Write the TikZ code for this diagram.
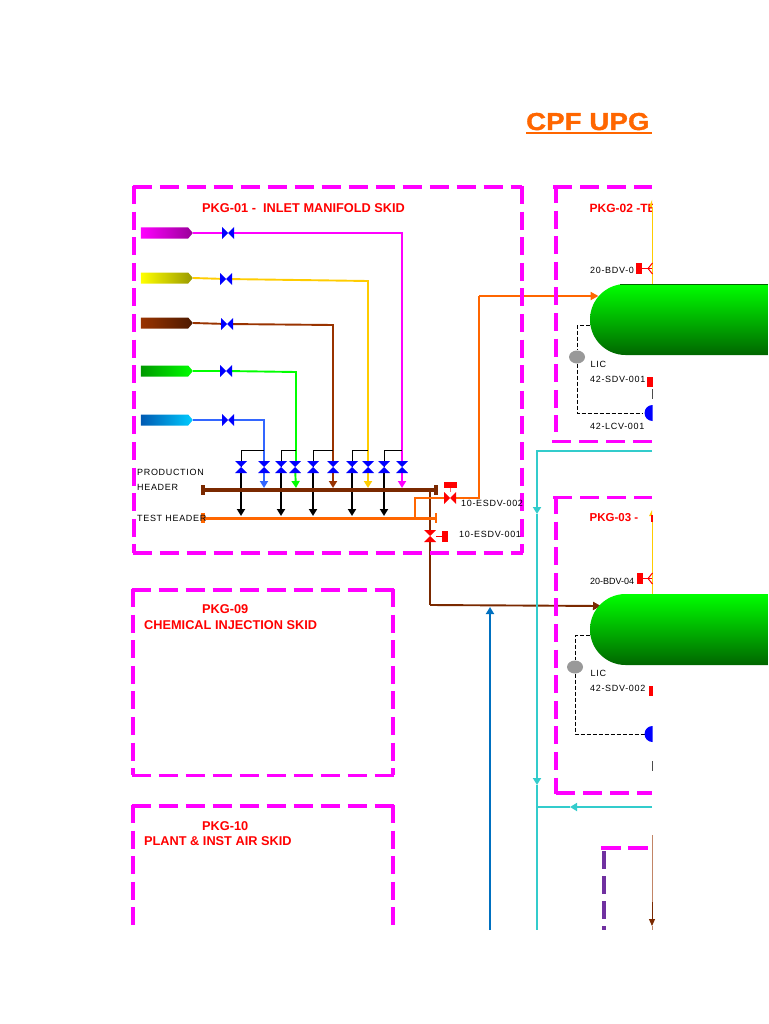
\documentclass[tikz,border=0pt]{standalone}
\usepackage{fontspec}
\setmainfont{Liberation Sans}
\newfontfamily\smallfont[LetterSpace=7.5]{Liberation Sans}
\newfontfamily\titlefont[BoldFeatures={FakeStretch=1.12,FakeBold=1.5},LetterSpace=1]{Liberation Sans}
\usetikzlibrary{arrows.meta,shapes.symbols,shapes.geometric,backgrounds}
\tikzset{
  pkgh/.style={draw=magenta!100,line width=3.5pt,dash pattern=on 19pt off 8pt},
  pkgv/.style={draw=magenta!100,line width=3.5pt,dash pattern=on 18pt off 7.6pt},
  feedtag/.style={signal,signal to=east,signal pointer angle=100,minimum width=52pt,minimum height=11pt,inner sep=0pt},
  hvalve/.style={rectangle,minimum size=12pt,inner sep=0pt,path picture={\fill[#1] (path picture bounding box.north west) -- (path picture bounding box.south east) -- (path picture bounding box.north east) -- (path picture bounding box.south west) -- cycle;}},
  vvalve/.style={rectangle,minimum size=12pt,inner sep=0pt,path picture={\fill[#1] (path picture bounding box.north west) -- (path picture bounding box.north east) -- (path picture bounding box.south west) -- (path picture bounding box.south east) -- cycle;}},
  pipe/.style={line width=1.9pt,>={Triangle[length=7pt,width=8pt]}},
  bigpipe/.style={pipe,>={Triangle[length=8pt,width=8pt]}},
  feedline/.style={pipe,draw=#1,-{Triangle[length=7pt,width=8pt]}},
  header/.style={line width=#1},
  pkgtitle/.style={anchor=west,inner sep=0pt,text=red,font=\bfseries\fontsize{12.75}{13}\selectfont},
  smalltag/.style={anchor=west,inner sep=0pt,text=black,font=\smallfont\fontsize{9}{9}\selectfont},
  actuator/.style={fill=red,draw=none},
  vessel/.style={top color=green,bottom color=green!40!black},
  signalline/.style={black,line width=0.9pt,dash pattern=on 4pt off 2pt},
  levelball/.style={ellipse,draw=none,fill=black!40,minimum width=16pt,minimum height=13pt,inner sep=0pt},
}
\definecolor{magenta}{HTML}{FF00FF}
\definecolor{goldline}{HTML}{FFCC00}
\definecolor{brownline}{HTML}{993300}
\definecolor{blueline}{HTML}{3366FF}
\definecolor{orangeline}{HTML}{FF6600}
\definecolor{tealline}{HTML}{33CCCC}
\definecolor{waterline}{HTML}{0070C0}
\definecolor{purpleline}{HTML}{7030A0}
\begin{document}
\begin{tikzpicture}[x=1pt,y=-1pt]
\useasboundingbox (0,0) rectangle (768,1024);
\node[anchor=base west,inner sep=0pt,text=orangeline,font=\titlefont\bfseries\fontsize{24.5}{25}\selectfont] (title) at (526,130) {CPF UPG};
\draw[orangeline,line width=2pt] (526,133) -- (652,133);
\draw[pkgh] (132.5,187) -- (522,187) (132.5,553) -- (523,553);
\draw[pkgv] (134,186) -- (134,553) (522,186) -- (522,553);
\draw[pkgh] (131.5,590) -- (394,590) (131.5,775.5) -- (394,775.5);
\draw[pkgv] (133,589) -- (133,775) (393,589) -- (393,775);
\draw[pkgh] (131.5,806) -- (394,806);
\draw[pkgv] (133,805) -- (133,925) (393,805) -- (393,925);
\draw[pkgh] (553,187) -- (652,187);
\draw[pkgv] (556,185) -- (556,432);
\draw[pkgh] (552,441.5) -- (652,441.5);
\draw[pkgh] (553,497.5) -- (652,497.5);
\draw[pkgv] (556,496) -- (556,794);
\draw[pkgh] (556,793) -- (652,793);
\draw[magenta,line width=3.5pt,dash pattern=on 20pt off 7pt] (601,848) -- (648,848);
\draw[purpleline,line width=3.5pt,dash pattern=on 18pt off 7pt] (604,851) -- (604,930);
\node[feedtag,left color=magenta,right color=magenta!60!black] (tagmag) at (164.5,233) {};
\node[feedtag,left color=yellow,right color=yellow!60!black] (taggold) at (164.5,278) {};
\node[feedtag,left color=brownline,right color=brownline!50!black] (tagbrown) at (164.5,323) {};
\node[feedtag,left color=green!60!black,right color=green] (taggreen) at (164.5,371) {};
\node[feedtag,left color=cyan!50!blue!70!black,right color=cyan!80!blue] (tagblue) at (164.5,420) {};
\node[hvalve=blue] (vmag) at (228,233) {};
\node[hvalve=blue] (vgold) at (226,279) {};
\node[hvalve=blue] (vbrown) at (227,324) {};
\node[hvalve=blue] (vgreen) at (226,371) {};
\node[hvalve=blue] (vblue) at (228,420) {};
\node[vvalve=blue] (p1) at (241,467) {};
\node[vvalve=blue] (t1) at (264,467) {};
\node[vvalve=blue] (p2) at (281,467) {};
\node[vvalve=blue] (t2) at (295,467) {};
\node[vvalve=blue] (p3) at (313,467) {};
\node[vvalve=blue] (t3) at (333,467) {};
\node[vvalve=blue] (p4) at (352,467) {};
\node[vvalve=blue] (t4) at (368,467) {};
\node[vvalve=blue] (p5) at (384,467) {};
\node[vvalve=blue] (t5) at (402,467) {};
\node[hvalve=red] (esdv2) at (450,498) {};
\node[vvalve=red] (esdv1) at (430,536) {};
\coordinate (prodL) at (203,490);
\coordinate (prodR) at (437,490);
\coordinate (testL) at (203,518);
\coordinate (testR) at (437,518);
\coordinate (ves1) at (598.5,296);
\coordinate (ves2) at (601,606);
\begin{pgfonlayer}{background}
\draw[pipe,magenta] (tagmag.east) -- (vmag) -| (t5);
\draw[pipe,goldline] (taggold.east) -- (vgold) -- (368,281) -- (t4);
\draw[pipe,brownline] (tagbrown.east) -- (vbrown) -- (333,325) -- (t3);
\draw[pipe,green] (taggreen.east) -- (vgreen) -- (296,372) -- (296,461);
\draw[pipe,blueline] (tagblue.east) -- (vblue) -| (t1);
\draw[feedline=magenta] (t5) -- (402,488);
\draw[feedline=goldline] (t4) -- (368,488);
\draw[feedline=brownline] (t3) -- (333,488);
\draw[feedline=green] (t2) -- (296,488);
\draw[feedline=blueline] (t1) -- (264,488);
\draw[black,line width=1pt] (p1.center) |- (241,450) -- (264,450);
\draw[black,line width=1pt] (p2.center) |- (281,450) -- (296,450);
\draw[black,line width=1pt] (p3.center) |- (313,450) -- (333,450);
\draw[black,line width=1pt] (p4.center) |- (352,450) -- (368,450);
\draw[black,line width=1pt] (p5.center) |- (384,450) -- (402,450);
\draw[feedline=black] (p1) -- (241,516);
\draw[feedline=black] (p2) -- (281,516);
\draw[feedline=black] (p3) -- (313,516);
\draw[feedline=black] (p4) -- (352,516);
\draw[feedline=black] (p5) -- (384,516);
\end{pgfonlayer}
\draw[header=4pt,brownline!80!black] (prodL) -- (prodR);
\draw[header=4pt,brownline!80!black] (prodL) ++(0,-5) --++ (0,10);
\draw[header=4pt,brownline!80!black] (prodR) ++(-1,-5) --++ (0,10);
\draw[header=3pt,orangeline] (testL) -- (testR);
\draw[header=4pt,orangeline] (testL) ++(0,-5) --++ (0,10);
\draw[header=2.5pt,orangeline] (testR) ++(-1,-5) --++ (0,10);
\begin{pgfonlayer}{background}
\draw[pipe,brownline!80!black] (430,490) -- (esdv1) -- (430,605);
\draw[bigpipe,brownline!80!black,->] (430,605) -- (ves2);
\draw[pipe,orangeline] (415,518) -- (415,498) -- (esdv2) -- (479,498) -- (479,296);
\draw[bigpipe,orangeline,->] (479,296) -- (ves1);
\draw[pipe,waterline,->] (490,930) -- (490,607);
\draw[pipe,tealline,->] (652,451) -- (537,451) -- (537,514);
\draw[pipe,tealline,->] (537,514) -- (537,785);
\draw[pipe,tealline] (537,785) -- (537,930);
\draw[pipe,tealline,->] (652,807) -- (570,807);
\draw[pipe,tealline] (570,807) -- (537,807);
\end{pgfonlayer}
\draw[red!60!white,line width=0.9pt] (esdv2) -- (450,488);
\fill[actuator] (444,482) rectangle (457,488);
\draw[red,line width=0.9pt] (esdv1) -- (442,536);
\fill[actuator] (442,531) rectangle (448,542);
\node[pkgtitle] (pkg1) at (202,208) {PKG-01 -\ \ INLET MANIFOLD SKID};
\node[smalltag] (prodtag) at (137,472.5) {PRODUCTION};
\node[smalltag] (prodtag2) at (137,487.5) {HEADER};
\node[smalltag] (testtag) at (137,518.5) {TEST HEADER};
\node[smalltag] (tag2) at (461,503) {10-ESDV-002};
\node[smalltag] (tag1) at (459,534.5) {10-ESDV-001};
\node[pkgtitle] (pkg9) at (202,609.5) {PKG-09};
\node[pkgtitle] (pkg9b) at (144,625.5) {CHEMICAL INJECTION SKID};
\node[pkgtitle] (pkg10) at (202,826) {PKG-10};
\node[pkgtitle] (pkg10b) at (144,841.5) {PLANT \& INST AIR SKID};
\node[pkgtitle,font=\bfseries\fontsize{12}{12}\selectfont] (pkg2) at (589.5,208.5) {PKG-02 -TE};
\node[pkgtitle,font=\bfseries\fontsize{11.5}{12}\selectfont] (pkg3) at (589.5,517.5) {PKG-03 -};
\node[smalltag] (bdv1) at (590,270.5) {20-BDV-0};
\node[smalltag] (lic1) at (590.5,364) {LIC};
\node[smalltag] (sdv1) at (590,379.5) {42-SDV-001};
\node[smalltag] (lcv1) at (590,426) {42-LCV-001};
\node[smalltag,font=\rmfamily\fontsize{9}{9}\selectfont] (bdv2) at (590,581) {20-BDV-04};
\node[smalltag] (lic2) at (590.5,673) {LIC};
\node[smalltag] (sdv2) at (590,688) {42-SDV-002};
\fill[white] (652.5,195) rectangle (660,300);
\draw[goldline,line width=0.7pt] (652,284) -- (652,207);
\fill[goldline] (652,200) -- (652,207) -- (649,207) -- cycle;
\draw[goldline,line width=0.7pt] (652,594) -- (652,516);
\fill[goldline] (652,510) -- (652,516) -- (649,516) -- cycle;
\fill[actuator] (651,515) rectangle (652.5,522);
\fill[actuator] (636,263) rectangle (641.5,274);
\draw[red,line width=1pt] (641,268.5) -- (652,268.5);
\draw[red,line width=1pt] (652.5,263) -- (648,268.5) -- (652.5,274);
\fill[actuator] (637,573) rectangle (642.5,584);
\draw[red,line width=1pt] (642,578.5) -- (652,578.5);
\draw[red,line width=1pt] (652.5,573) -- (648,578.5) -- (652.5,584);
\shade[vessel] (768,284) -- (625.5,284) arc[start angle=270,end angle=90,radius=35.5] -- (768,355) -- cycle;
\draw[green!40!black,line width=0.6pt] (620,284) -- (768,284);
\shade[vessel] (768,594) -- (625.5,594) arc[start angle=270,end angle=90,radius=35.5] -- (768,665) -- cycle;
\node[levelball] (lc1) at (577,357) {};
\node[levelball] (lc2) at (575,667) {};
\draw[signalline] (590,325.5) -- (577,325.5) -- (lc1);
\draw[signalline] (lc1) -- (577,413) -- (642,413);
\draw[signalline] (590,635.5) -- (575,635.5) -- (lc2);
\draw[signalline] (lc2) -- (575,734) -- (648,734);
\fill[blue] (652.5,405) arc[start angle=270,end angle=90,radius=8] -- cycle;
\fill[blue] (652.5,726) arc[start angle=270,end angle=90,radius=8] -- cycle;
\fill[actuator] (647,377) rectangle (652.5,387);
\fill[actuator] (649,686) rectangle (652.5,696);
\draw[black!70,line width=0.8pt] (652,389) -- (652,399);
\draw[black!70,line width=0.8pt] (652,761) -- (652,771);
\draw[brownline!60!white,line width=1pt] (652,835) -- (652,902);
\draw[brownline!80!black,line width=1pt,-{Triangle[length=7pt,width=6pt]}] (652,902) -- (652,926);
\draw[brownline!60!white,line width=1pt] (652,926) -- (652,930);
\end{tikzpicture}
\end{document}
